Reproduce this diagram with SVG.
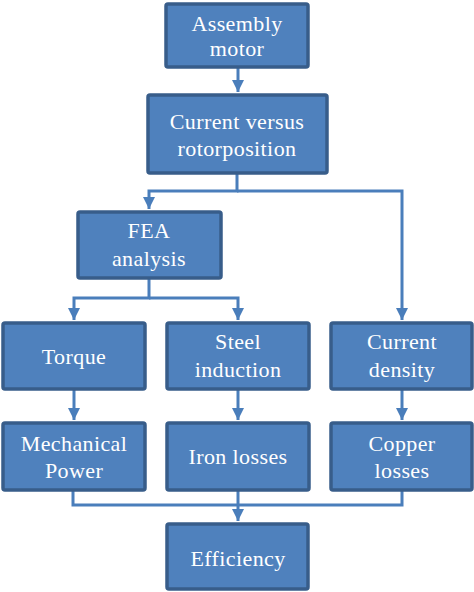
<svg xmlns="http://www.w3.org/2000/svg" width="474" height="592" viewBox="0 0 474 592">
<style>
.box{fill:#4F81BD;stroke:#385D8A;stroke-width:3.5}
.t{font-family:'Liberation Serif','DejaVu Serif',serif;font-size:22px;fill:#fff;text-anchor:middle;letter-spacing:0.4px}
.c{fill:none;stroke:#4A7EBB;stroke-width:3}
</style>
<defs>
<marker id="ah" viewBox="0 0 10 10" refX="10" refY="5" markerWidth="4" markerHeight="4.3" orient="auto" markerUnits="strokeWidth">
<path d="M0,0 L10,5 L0,10 z" fill="#4A7EBB"/>
</marker>
</defs>
<rect width="474" height="592" fill="#fff"/>
<g id="connectors">
<path class="c" d="M238,68 V92" marker-end="url(#ah)"/>
<path class="c" d="M237,174 V191 H149 V209" marker-end="url(#ah)"/>
<path class="c" d="M237,191 H402 V320" marker-end="url(#ah)"/>
<path class="c" d="M149,279 V298 H74 V320" marker-end="url(#ah)"/>
<path class="c" d="M149,298 H238 V320" marker-end="url(#ah)"/>
<path class="c" d="M74,390 V420" marker-end="url(#ah)"/>
<path class="c" d="M238,390 V420" marker-end="url(#ah)"/>
<path class="c" d="M402,390 V420" marker-end="url(#ah)"/>
<path class="c" d="M73,491 V505 H402 V491"/>
<path class="c" d="M238,491 V521" marker-end="url(#ah)"/>
</g>
<g id="assembly">
<rect class="box" x="166" y="4" width="142" height="63" rx="2"/>
<text class="t" x="237" y="31" font-family="Liberation Serif, serif">Assembly</text>
<text class="t" x="237" y="56" font-family="Liberation Serif, serif">motor</text>
</g>
<g id="current">
<rect class="box" x="148" y="95" width="179" height="78" rx="2"/>
<text class="t" x="237" y="129">Current versus</text>
<text class="t" x="237" y="156">rotorposition</text>
</g>
<g id="fea">
<rect class="box" x="78" y="212" width="143" height="66" rx="2"/>
<text class="t" x="149" y="238">FEA</text>
<text class="t" x="149" y="266">analysis</text>
</g>
<g id="torque">
<rect class="box" x="3" y="323" width="142" height="66" rx="2"/>
<text class="t" x="74" y="364">Torque</text>
</g>
<g id="steel">
<rect class="box" x="167" y="323" width="142" height="66" rx="2"/>
<text class="t" x="238" y="349">Steel</text>
<text class="t" x="238" y="377">induction</text>
</g>
<g id="density">
<rect class="box" x="331" y="323" width="141" height="66" rx="2"/>
<text class="t" x="402" y="349">Current</text>
<text class="t" x="402" y="377">density</text>
</g>
<g id="mechanical">
<rect class="box" x="3" y="423" width="142" height="67" rx="2"/>
<text class="t" x="74" y="451">Mechanical</text>
<text class="t" x="74" y="478">Power</text>
</g>
<g id="iron">
<rect class="box" x="167" y="423" width="142" height="67" rx="2"/>
<text class="t" x="238" y="464">Iron losses</text>
</g>
<g id="copper">
<rect class="box" x="331" y="423" width="141" height="67" rx="2"/>
<text class="t" x="402" y="451">Copper</text>
<text class="t" x="402" y="478">losses</text>
</g>
<g id="efficiency">
<rect class="box" x="167" y="524" width="141" height="65" rx="2"/>
<text class="t" x="238" y="566">Efficiency</text>
</g>
</svg>
